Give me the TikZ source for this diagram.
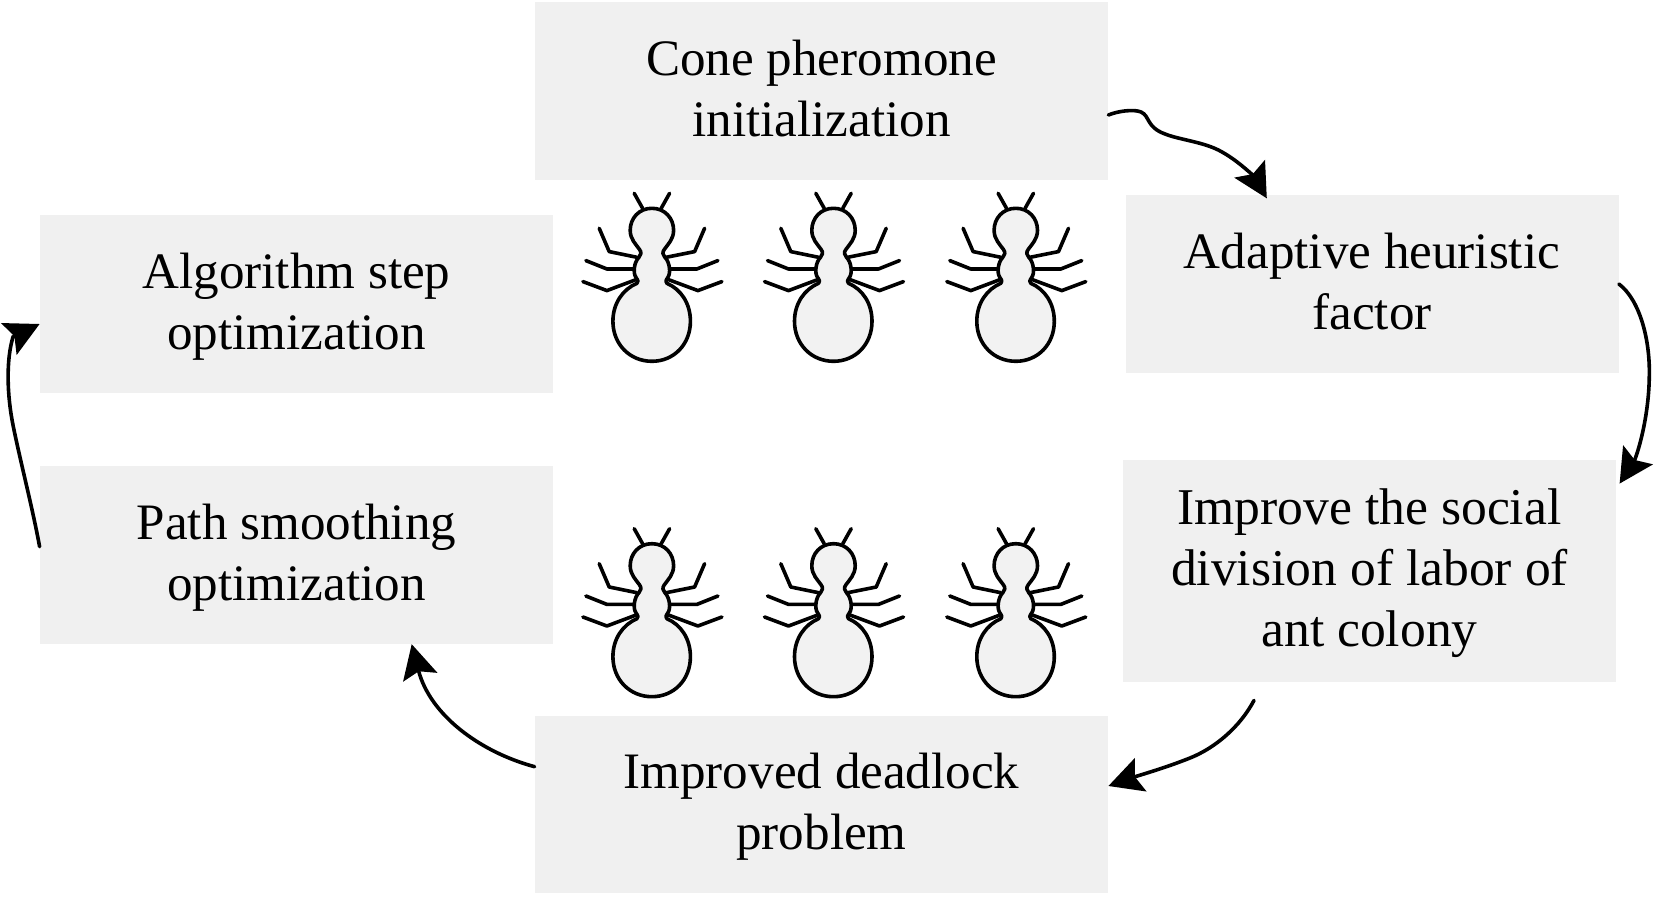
\documentclass[tikz,border=0pt]{standalone}
\usepackage{fontspec}
\setmainfont{Liberation Serif}
\usetikzlibrary{arrows.meta}
\newcommand{\firstline}{\rule{0pt}{22pt}}
\newcommand{\lastline}{\rule[-7pt]{0pt}{7pt}}
\newcommand{\lastlinehi}{\rule[-8pt]{0pt}{8pt}}
\tikzset{
  x=0.5pt,y=-0.5pt,
  stagebox/.style={fill=boxgray,draw=none,inner sep=0pt,align=center,font=\fontsize{25.55pt}{30.5pt}\selectfont},
  flow/.style={line width=1.8pt,line cap=round,-{Stealth[length=17pt,width=17.5pt,inset=3pt]}},
  antline/.style={line width=1.8pt,line cap=round,line join=round},
  pics/antfig/.style={code={
    \draw[antline] (-9.3,-75)--(-17.7,-90) (9.3,-75)--(17.7,-90);
    \draw[antline] (-15,-26)--(-42.7,-31.7)--(-52.7,-55) (14.3,-26)--(42.7,-31.7)--(52.7,-55);
    \draw[antline] (-19,-14.3)--(-45,-14.3)--(-66,-22.7) (19.3,-14.3)--(45,-14.3)--(66,-22.7);
    \draw[antline] (-15,-4)--(-45,7.3)--(-69,-1.7) (15.7,-4)--(46,7.3)--(70,-1.7);
    \draw[antline,fill=antgray]
      (0,-75) .. controls (13,-75) and (21.7,-65) .. (21.7,-53)
      .. controls (21.7,-44) and (16,-39) .. (12.5,-34)
      .. controls (10,-31) and (11,-28) .. (13,-26)
      .. controls (18,-21) and (19,-10) .. (16,-6)
      .. controls (14,-3) and (13,-1) .. (15,0)
      .. controls (29,6) and (38.5,20) .. (38.5,38)
      .. controls (38.5,61) and (22,78) .. (0,78)
      .. controls (-22,78) and (-39,61) .. (-39,38)
      .. controls (-39,20) and (-29,6) .. (-15,0)
      .. controls (-13,-1) and (-14,-3) .. (-16,-6)
      .. controls (-19,-10) and (-18,-21) .. (-13,-26)
      .. controls (-11,-28) and (-10,-31) .. (-12.5,-34)
      .. controls (-16,-39) and (-21.7,-44) .. (-21.7,-53)
      .. controls (-21.7,-65) and (-13,-75) .. (0,-75) -- cycle;
  }}
}
\definecolor{boxgray}{HTML}{F0F0F0}
\definecolor{antgray}{HTML}{F2F2F2}
\begin{document}
\begin{tikzpicture}
\useasboundingbox (0,0) rectangle (1654,897);
\node[stagebox,minimum width=286.5pt,minimum height=89pt] (cone) at (821.5,91) {\firstline Cone pheromone\\initialization\lastline};
\node[stagebox,minimum width=246.5pt,minimum height=88.75pt] (heur) at (1372,284) {\firstline Adaptive heuristic\\factor\lastline};
\node[stagebox,minimum width=246.5pt,minimum height=110.75pt,font=\fontsize{25.8pt}{30.5pt}\selectfont] (social) at (1369.5,570.75) {\firstline Improve the social\\division of labor of\\ant colony\lastline};
\node[stagebox,minimum width=286.5pt,minimum height=88.5pt] (dead) at (821.5,804.5) {\firstline Improved deadlock\\problem\lastlinehi};
\node[stagebox,minimum width=256.5pt,minimum height=88.75pt] (smooth) at (296.5,555) {\firstline Path smoothing\\optimization\lastline};
\node[stagebox,minimum width=256.5pt,minimum height=89pt] (algo) at (296.5,304) {\firstline Algorithm step\\optimization\lastline};
\foreach \ax in {651.9,833.5,1015.8}{
  \foreach \ay in {283.3,618.7}{
    \pic at (\ax,\ay) {antfig};
  }
}
\draw[flow] ([yshift=-12pt]cone.east) .. controls (1118,111) and (1134,109) .. (1141,112)
  .. controls (1150,116) and (1146,127) .. (1165,134)
  .. controls (1180,140) and (1205,142) .. (1222,152)
  .. controls (1240,162) and (1255,178) .. ([xshift=-52.6pt,yshift=-1.75pt]heur.north);
\draw[flow] (heur.east) .. controls (1640,300) and (1650,340) .. (1649.3,375)
  .. controls (1649,420) and (1636,458) .. ([xshift=1.6pt,yshift=-12pt]social.north east);
\draw[flow] ([xshift=-57.75pt,yshift=-9.25pt]social.south) .. controls (1240,727) and (1215,748) .. (1190,758)
  .. controls (1165,768) and (1140,775) .. ([yshift=9.25pt]dead.east);
\draw[flow] ([yshift=18.9pt]dead.west) .. controls (480,752) and (430,715) .. ([xshift=57.6pt]smooth.south);
\draw[flow] ([yshift=4.15pt]smooth.west) .. controls (33,510) and (20,460) .. (13,425)
  .. controls (7,395) and (6,360) .. (13,337) -- ([yshift=-10pt]algo.west);
\end{tikzpicture}
\end{document}
